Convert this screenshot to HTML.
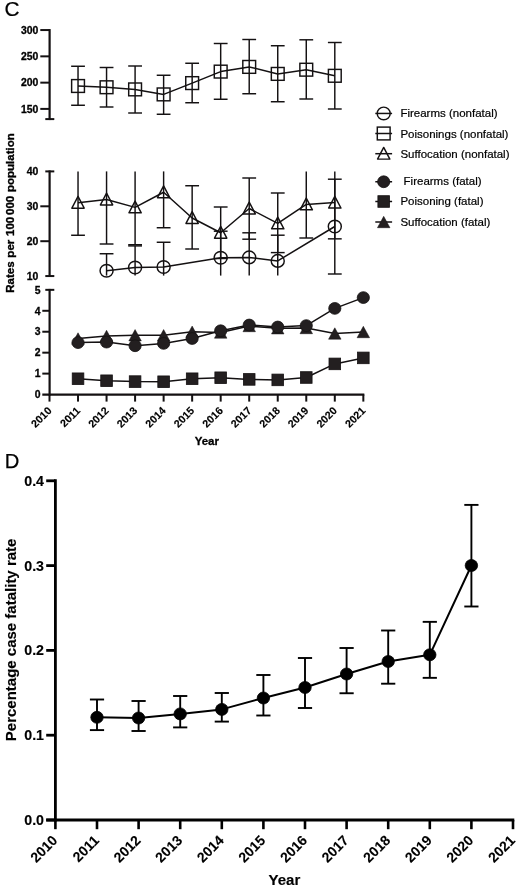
<!DOCTYPE html>
<html lang="en"><head><meta charset="utf-8"><title>Figure C and D</title>
<style>html,body{margin:0;padding:0;background:#fff}svg{display:block}</style></head>
<body>
<svg width="520" height="891" viewBox="0 0 520 891">
<rect width="520" height="891" fill="#ffffff"/>
<text x="4.60" y="16.45" font-family="Liberation Sans, Arial, Helvetica, sans-serif" font-size="20.8" text-anchor="start" fill="#000000" stroke="#000000" stroke-width="0.2">C</text>
<text x="4.85" y="468.20" font-family="Liberation Sans, Arial, Helvetica, sans-serif" font-size="20.2" text-anchor="start" fill="#000000" stroke="#000000" stroke-width="0.25">D</text>
<line x1="49.60" y1="29.05" x2="49.60" y2="120.05" stroke="#141112" stroke-width="2.2" stroke-linecap="butt"/>
<line x1="40.30" y1="30.05" x2="49.60" y2="30.05" stroke="#141112" stroke-width="2.0" stroke-linecap="butt"/>
<text x="38.40" y="33.77" font-family="Liberation Sans, Arial, Helvetica, sans-serif" font-size="10.4" font-weight="bold" text-anchor="end" fill="#000000" stroke="#000000" stroke-width="0.3">300</text>
<line x1="40.30" y1="56.35" x2="49.60" y2="56.35" stroke="#141112" stroke-width="2.0" stroke-linecap="butt"/>
<text x="38.40" y="60.07" font-family="Liberation Sans, Arial, Helvetica, sans-serif" font-size="10.4" font-weight="bold" text-anchor="end" fill="#000000" stroke="#000000" stroke-width="0.3">250</text>
<line x1="40.30" y1="82.65" x2="49.60" y2="82.65" stroke="#141112" stroke-width="2.0" stroke-linecap="butt"/>
<text x="38.40" y="86.37" font-family="Liberation Sans, Arial, Helvetica, sans-serif" font-size="10.4" font-weight="bold" text-anchor="end" fill="#000000" stroke="#000000" stroke-width="0.3">200</text>
<line x1="40.30" y1="108.90" x2="49.60" y2="108.90" stroke="#141112" stroke-width="2.0" stroke-linecap="butt"/>
<text x="38.40" y="112.62" font-family="Liberation Sans, Arial, Helvetica, sans-serif" font-size="10.4" font-weight="bold" text-anchor="end" fill="#000000" stroke="#000000" stroke-width="0.3">150</text>
<line x1="45.30" y1="119.10" x2="54.30" y2="119.10" stroke="#141112" stroke-width="2.0" stroke-linecap="butt"/>
<line x1="49.60" y1="170.45" x2="49.60" y2="277.00" stroke="#141112" stroke-width="2.2" stroke-linecap="butt"/>
<line x1="45.30" y1="171.40" x2="54.30" y2="171.40" stroke="#141112" stroke-width="2.0" stroke-linecap="butt"/>
<text x="38.40" y="175.12" font-family="Liberation Sans, Arial, Helvetica, sans-serif" font-size="10.4" font-weight="bold" text-anchor="end" fill="#000000" stroke="#000000" stroke-width="0.3">40</text>
<line x1="45.30" y1="276.05" x2="54.30" y2="276.05" stroke="#141112" stroke-width="2.0" stroke-linecap="butt"/>
<text x="38.40" y="280.12" font-family="Liberation Sans, Arial, Helvetica, sans-serif" font-size="10.4" font-weight="bold" text-anchor="end" fill="#000000" stroke="#000000" stroke-width="0.3">10</text>
<line x1="40.30" y1="206.30" x2="49.60" y2="206.30" stroke="#141112" stroke-width="2.0" stroke-linecap="butt"/>
<text x="38.40" y="210.02" font-family="Liberation Sans, Arial, Helvetica, sans-serif" font-size="10.4" font-weight="bold" text-anchor="end" fill="#000000" stroke="#000000" stroke-width="0.3">30</text>
<line x1="40.30" y1="241.20" x2="49.60" y2="241.20" stroke="#141112" stroke-width="2.0" stroke-linecap="butt"/>
<text x="38.40" y="244.92" font-family="Liberation Sans, Arial, Helvetica, sans-serif" font-size="10.4" font-weight="bold" text-anchor="end" fill="#000000" stroke="#000000" stroke-width="0.3">20</text>
<line x1="49.60" y1="288.90" x2="49.60" y2="395.55" stroke="#141112" stroke-width="2.2" stroke-linecap="butt"/>
<line x1="45.30" y1="289.85" x2="54.30" y2="289.85" stroke="#141112" stroke-width="2.0" stroke-linecap="butt"/>
<text x="40.50" y="293.57" font-family="Liberation Sans, Arial, Helvetica, sans-serif" font-size="10.4" font-weight="bold" text-anchor="end" fill="#000000" stroke="#000000" stroke-width="0.3">5</text>
<text x="40.50" y="398.27" font-family="Liberation Sans, Arial, Helvetica, sans-serif" font-size="10.4" font-weight="bold" text-anchor="end" fill="#000000" stroke="#000000" stroke-width="0.3">0</text>
<line x1="42.30" y1="373.61" x2="49.60" y2="373.61" stroke="#141112" stroke-width="2.0" stroke-linecap="butt"/>
<text x="40.50" y="377.33" font-family="Liberation Sans, Arial, Helvetica, sans-serif" font-size="10.4" font-weight="bold" text-anchor="end" fill="#000000" stroke="#000000" stroke-width="0.3">1</text>
<line x1="42.30" y1="352.67" x2="49.60" y2="352.67" stroke="#141112" stroke-width="2.0" stroke-linecap="butt"/>
<text x="40.50" y="356.39" font-family="Liberation Sans, Arial, Helvetica, sans-serif" font-size="10.4" font-weight="bold" text-anchor="end" fill="#000000" stroke="#000000" stroke-width="0.3">2</text>
<line x1="42.30" y1="331.73" x2="49.60" y2="331.73" stroke="#141112" stroke-width="2.0" stroke-linecap="butt"/>
<text x="40.50" y="335.45" font-family="Liberation Sans, Arial, Helvetica, sans-serif" font-size="10.4" font-weight="bold" text-anchor="end" fill="#000000" stroke="#000000" stroke-width="0.3">3</text>
<line x1="42.30" y1="310.79" x2="49.60" y2="310.79" stroke="#141112" stroke-width="2.0" stroke-linecap="butt"/>
<text x="40.50" y="314.51" font-family="Liberation Sans, Arial, Helvetica, sans-serif" font-size="10.4" font-weight="bold" text-anchor="end" fill="#000000" stroke="#000000" stroke-width="0.3">4</text>
<line x1="42.30" y1="394.55" x2="364.33" y2="394.55" stroke="#141112" stroke-width="2.2" stroke-linecap="butt"/>
<line x1="49.50" y1="394.55" x2="49.50" y2="401.60" stroke="#141112" stroke-width="2.0" stroke-linecap="butt"/>
<text transform="translate(49.70 408.70) rotate(-45)" x="0" y="3.83" font-family="Liberation Sans, Arial, Helvetica, sans-serif" font-size="10.7" font-weight="bold" text-anchor="end" fill="#000000" stroke="#000000" stroke-width="0.15">2010</text>
<line x1="78.03" y1="394.55" x2="78.03" y2="401.60" stroke="#141112" stroke-width="2.0" stroke-linecap="butt"/>
<text transform="translate(78.23 408.70) rotate(-45)" x="0" y="3.83" font-family="Liberation Sans, Arial, Helvetica, sans-serif" font-size="10.7" font-weight="bold" text-anchor="end" fill="#000000" stroke="#000000" stroke-width="0.15">2011</text>
<line x1="106.56" y1="394.55" x2="106.56" y2="401.60" stroke="#141112" stroke-width="2.0" stroke-linecap="butt"/>
<text transform="translate(106.76 408.70) rotate(-45)" x="0" y="3.83" font-family="Liberation Sans, Arial, Helvetica, sans-serif" font-size="10.7" font-weight="bold" text-anchor="end" fill="#000000" stroke="#000000" stroke-width="0.15">2012</text>
<line x1="135.09" y1="394.55" x2="135.09" y2="401.60" stroke="#141112" stroke-width="2.0" stroke-linecap="butt"/>
<text transform="translate(135.29 408.70) rotate(-45)" x="0" y="3.83" font-family="Liberation Sans, Arial, Helvetica, sans-serif" font-size="10.7" font-weight="bold" text-anchor="end" fill="#000000" stroke="#000000" stroke-width="0.15">2013</text>
<line x1="163.62" y1="394.55" x2="163.62" y2="401.60" stroke="#141112" stroke-width="2.0" stroke-linecap="butt"/>
<text transform="translate(163.82 408.70) rotate(-45)" x="0" y="3.83" font-family="Liberation Sans, Arial, Helvetica, sans-serif" font-size="10.7" font-weight="bold" text-anchor="end" fill="#000000" stroke="#000000" stroke-width="0.15">2014</text>
<line x1="192.15" y1="394.55" x2="192.15" y2="401.60" stroke="#141112" stroke-width="2.0" stroke-linecap="butt"/>
<text transform="translate(192.35 408.70) rotate(-45)" x="0" y="3.83" font-family="Liberation Sans, Arial, Helvetica, sans-serif" font-size="10.7" font-weight="bold" text-anchor="end" fill="#000000" stroke="#000000" stroke-width="0.15">2015</text>
<line x1="220.68" y1="394.55" x2="220.68" y2="401.60" stroke="#141112" stroke-width="2.0" stroke-linecap="butt"/>
<text transform="translate(220.88 408.70) rotate(-45)" x="0" y="3.83" font-family="Liberation Sans, Arial, Helvetica, sans-serif" font-size="10.7" font-weight="bold" text-anchor="end" fill="#000000" stroke="#000000" stroke-width="0.15">2016</text>
<line x1="249.21" y1="394.55" x2="249.21" y2="401.60" stroke="#141112" stroke-width="2.0" stroke-linecap="butt"/>
<text transform="translate(249.41 408.70) rotate(-45)" x="0" y="3.83" font-family="Liberation Sans, Arial, Helvetica, sans-serif" font-size="10.7" font-weight="bold" text-anchor="end" fill="#000000" stroke="#000000" stroke-width="0.15">2017</text>
<line x1="277.74" y1="394.55" x2="277.74" y2="401.60" stroke="#141112" stroke-width="2.0" stroke-linecap="butt"/>
<text transform="translate(277.94 408.70) rotate(-45)" x="0" y="3.83" font-family="Liberation Sans, Arial, Helvetica, sans-serif" font-size="10.7" font-weight="bold" text-anchor="end" fill="#000000" stroke="#000000" stroke-width="0.15">2018</text>
<line x1="306.27" y1="394.55" x2="306.27" y2="401.60" stroke="#141112" stroke-width="2.0" stroke-linecap="butt"/>
<text transform="translate(306.47 408.70) rotate(-45)" x="0" y="3.83" font-family="Liberation Sans, Arial, Helvetica, sans-serif" font-size="10.7" font-weight="bold" text-anchor="end" fill="#000000" stroke="#000000" stroke-width="0.15">2019</text>
<line x1="334.80" y1="394.55" x2="334.80" y2="401.60" stroke="#141112" stroke-width="2.0" stroke-linecap="butt"/>
<text transform="translate(335.00 408.70) rotate(-45)" x="0" y="3.83" font-family="Liberation Sans, Arial, Helvetica, sans-serif" font-size="10.7" font-weight="bold" text-anchor="end" fill="#000000" stroke="#000000" stroke-width="0.15">2020</text>
<line x1="363.33" y1="394.55" x2="363.33" y2="401.60" stroke="#141112" stroke-width="2.0" stroke-linecap="butt"/>
<text transform="translate(363.53 408.70) rotate(-45)" x="0" y="3.83" font-family="Liberation Sans, Arial, Helvetica, sans-serif" font-size="10.7" font-weight="bold" text-anchor="end" fill="#000000" stroke="#000000" stroke-width="0.15">2021</text>
<text x="206.85" y="444.90" font-family="Liberation Sans, Arial, Helvetica, sans-serif" font-size="11.5" font-weight="bold" text-anchor="middle" fill="#000000" stroke="#000000" stroke-width="0.3">Year</text>
<text transform="translate(13.80 213.00) rotate(-90)" x="0" y="0.00" font-family="Liberation Sans, Arial, Helvetica, sans-serif" font-size="11.5" font-weight="bold" text-anchor="middle" fill="#000000" word-spacing="0.6" stroke="#000000" stroke-width="0.35">Rates per 100 <tspan dx="-2.0">000 population</tspan></text>
<line x1="78.03" y1="66.25" x2="78.03" y2="105.25" stroke="#141112" stroke-width="1.45" stroke-linecap="butt"/>
<line x1="71.13" y1="66.25" x2="84.93" y2="66.25" stroke="#141112" stroke-width="1.45" stroke-linecap="butt"/>
<line x1="71.13" y1="105.25" x2="84.93" y2="105.25" stroke="#141112" stroke-width="1.45" stroke-linecap="butt"/>
<line x1="106.56" y1="67.50" x2="106.56" y2="107.00" stroke="#141112" stroke-width="1.45" stroke-linecap="butt"/>
<line x1="99.66" y1="67.50" x2="113.46" y2="67.50" stroke="#141112" stroke-width="1.45" stroke-linecap="butt"/>
<line x1="99.66" y1="107.00" x2="113.46" y2="107.00" stroke="#141112" stroke-width="1.45" stroke-linecap="butt"/>
<line x1="135.09" y1="66.00" x2="135.09" y2="113.00" stroke="#141112" stroke-width="1.45" stroke-linecap="butt"/>
<line x1="128.19" y1="66.00" x2="141.99" y2="66.00" stroke="#141112" stroke-width="1.45" stroke-linecap="butt"/>
<line x1="128.19" y1="113.00" x2="141.99" y2="113.00" stroke="#141112" stroke-width="1.45" stroke-linecap="butt"/>
<line x1="163.62" y1="75.25" x2="163.62" y2="114.25" stroke="#141112" stroke-width="1.45" stroke-linecap="butt"/>
<line x1="156.72" y1="75.25" x2="170.52" y2="75.25" stroke="#141112" stroke-width="1.45" stroke-linecap="butt"/>
<line x1="156.72" y1="114.25" x2="170.52" y2="114.25" stroke="#141112" stroke-width="1.45" stroke-linecap="butt"/>
<line x1="192.15" y1="63.25" x2="192.15" y2="102.75" stroke="#141112" stroke-width="1.45" stroke-linecap="butt"/>
<line x1="185.25" y1="63.25" x2="199.05" y2="63.25" stroke="#141112" stroke-width="1.45" stroke-linecap="butt"/>
<line x1="185.25" y1="102.75" x2="199.05" y2="102.75" stroke="#141112" stroke-width="1.45" stroke-linecap="butt"/>
<line x1="220.68" y1="43.50" x2="220.68" y2="99.25" stroke="#141112" stroke-width="1.45" stroke-linecap="butt"/>
<line x1="213.78" y1="43.50" x2="227.58" y2="43.50" stroke="#141112" stroke-width="1.45" stroke-linecap="butt"/>
<line x1="213.78" y1="99.25" x2="227.58" y2="99.25" stroke="#141112" stroke-width="1.45" stroke-linecap="butt"/>
<line x1="249.21" y1="39.50" x2="249.21" y2="93.75" stroke="#141112" stroke-width="1.45" stroke-linecap="butt"/>
<line x1="242.31" y1="39.50" x2="256.11" y2="39.50" stroke="#141112" stroke-width="1.45" stroke-linecap="butt"/>
<line x1="242.31" y1="93.75" x2="256.11" y2="93.75" stroke="#141112" stroke-width="1.45" stroke-linecap="butt"/>
<line x1="277.74" y1="45.75" x2="277.74" y2="101.75" stroke="#141112" stroke-width="1.45" stroke-linecap="butt"/>
<line x1="270.84" y1="45.75" x2="284.64" y2="45.75" stroke="#141112" stroke-width="1.45" stroke-linecap="butt"/>
<line x1="270.84" y1="101.75" x2="284.64" y2="101.75" stroke="#141112" stroke-width="1.45" stroke-linecap="butt"/>
<line x1="306.27" y1="39.80" x2="306.27" y2="99.00" stroke="#141112" stroke-width="1.45" stroke-linecap="butt"/>
<line x1="299.37" y1="39.80" x2="313.17" y2="39.80" stroke="#141112" stroke-width="1.45" stroke-linecap="butt"/>
<line x1="299.37" y1="99.00" x2="313.17" y2="99.00" stroke="#141112" stroke-width="1.45" stroke-linecap="butt"/>
<line x1="334.80" y1="42.50" x2="334.80" y2="109.00" stroke="#141112" stroke-width="1.45" stroke-linecap="butt"/>
<line x1="327.90" y1="42.50" x2="341.70" y2="42.50" stroke="#141112" stroke-width="1.45" stroke-linecap="butt"/>
<line x1="327.90" y1="109.00" x2="341.70" y2="109.00" stroke="#141112" stroke-width="1.45" stroke-linecap="butt"/>
<polyline points="78.03,86.00 106.56,87.25 135.09,89.40 163.62,94.40 192.15,83.10 220.68,71.60 249.21,66.90 277.74,73.90 306.27,69.70 334.80,75.80" fill="none" stroke="#141112" stroke-width="1.5" stroke-linejoin="round"/>
<rect x="71.63" y="79.60" width="12.80" height="12.80" fill="none" stroke="#141112" stroke-width="1.45"/>
<rect x="100.16" y="80.85" width="12.80" height="12.80" fill="none" stroke="#141112" stroke-width="1.45"/>
<rect x="128.69" y="83.00" width="12.80" height="12.80" fill="none" stroke="#141112" stroke-width="1.45"/>
<rect x="157.22" y="88.00" width="12.80" height="12.80" fill="none" stroke="#141112" stroke-width="1.45"/>
<rect x="185.75" y="76.70" width="12.80" height="12.80" fill="none" stroke="#141112" stroke-width="1.45"/>
<rect x="214.28" y="65.20" width="12.80" height="12.80" fill="none" stroke="#141112" stroke-width="1.45"/>
<rect x="242.81" y="60.50" width="12.80" height="12.80" fill="none" stroke="#141112" stroke-width="1.45"/>
<rect x="271.34" y="67.50" width="12.80" height="12.80" fill="none" stroke="#141112" stroke-width="1.45"/>
<rect x="299.87" y="63.30" width="12.80" height="12.80" fill="none" stroke="#141112" stroke-width="1.45"/>
<rect x="328.40" y="69.40" width="12.80" height="12.80" fill="none" stroke="#141112" stroke-width="1.45"/>
<line x1="78.03" y1="171.40" x2="78.03" y2="235.25" stroke="#141112" stroke-width="1.45" stroke-linecap="butt"/>
<line x1="71.13" y1="235.25" x2="84.93" y2="235.25" stroke="#141112" stroke-width="1.45" stroke-linecap="butt"/>
<line x1="106.56" y1="171.40" x2="106.56" y2="244.00" stroke="#141112" stroke-width="1.45" stroke-linecap="butt"/>
<line x1="99.66" y1="244.00" x2="113.46" y2="244.00" stroke="#141112" stroke-width="1.45" stroke-linecap="butt"/>
<line x1="135.09" y1="171.40" x2="135.09" y2="244.70" stroke="#141112" stroke-width="1.45" stroke-linecap="butt"/>
<line x1="128.19" y1="244.70" x2="141.99" y2="244.70" stroke="#141112" stroke-width="1.45" stroke-linecap="butt"/>
<line x1="163.62" y1="171.40" x2="163.62" y2="227.75" stroke="#141112" stroke-width="1.45" stroke-linecap="butt"/>
<line x1="156.72" y1="227.75" x2="170.52" y2="227.75" stroke="#141112" stroke-width="1.45" stroke-linecap="butt"/>
<line x1="192.15" y1="185.75" x2="192.15" y2="249.00" stroke="#141112" stroke-width="1.45" stroke-linecap="butt"/>
<line x1="185.25" y1="185.75" x2="199.05" y2="185.75" stroke="#141112" stroke-width="1.45" stroke-linecap="butt"/>
<line x1="185.25" y1="249.00" x2="199.05" y2="249.00" stroke="#141112" stroke-width="1.45" stroke-linecap="butt"/>
<line x1="220.68" y1="207.00" x2="220.68" y2="258.50" stroke="#141112" stroke-width="1.45" stroke-linecap="butt"/>
<line x1="213.78" y1="207.00" x2="227.58" y2="207.00" stroke="#141112" stroke-width="1.45" stroke-linecap="butt"/>
<line x1="213.78" y1="258.50" x2="227.58" y2="258.50" stroke="#141112" stroke-width="1.45" stroke-linecap="butt"/>
<line x1="249.21" y1="178.00" x2="249.21" y2="239.20" stroke="#141112" stroke-width="1.45" stroke-linecap="butt"/>
<line x1="242.31" y1="178.00" x2="256.11" y2="178.00" stroke="#141112" stroke-width="1.45" stroke-linecap="butt"/>
<line x1="242.31" y1="239.20" x2="256.11" y2="239.20" stroke="#141112" stroke-width="1.45" stroke-linecap="butt"/>
<line x1="277.74" y1="193.00" x2="277.74" y2="252.60" stroke="#141112" stroke-width="1.45" stroke-linecap="butt"/>
<line x1="270.84" y1="193.00" x2="284.64" y2="193.00" stroke="#141112" stroke-width="1.45" stroke-linecap="butt"/>
<line x1="270.84" y1="252.60" x2="284.64" y2="252.60" stroke="#141112" stroke-width="1.45" stroke-linecap="butt"/>
<line x1="306.27" y1="171.40" x2="306.27" y2="238.00" stroke="#141112" stroke-width="1.45" stroke-linecap="butt"/>
<line x1="299.37" y1="238.00" x2="313.17" y2="238.00" stroke="#141112" stroke-width="1.45" stroke-linecap="butt"/>
<line x1="334.80" y1="171.40" x2="334.80" y2="238.85" stroke="#141112" stroke-width="1.45" stroke-linecap="butt"/>
<line x1="327.90" y1="238.85" x2="341.70" y2="238.85" stroke="#141112" stroke-width="1.45" stroke-linecap="butt"/>
<line x1="106.56" y1="253.75" x2="106.56" y2="275.60" stroke="#141112" stroke-width="1.45" stroke-linecap="butt"/>
<line x1="99.66" y1="253.75" x2="113.46" y2="253.75" stroke="#141112" stroke-width="1.45" stroke-linecap="butt"/>
<line x1="135.09" y1="245.90" x2="135.09" y2="275.60" stroke="#141112" stroke-width="1.45" stroke-linecap="butt"/>
<line x1="128.19" y1="245.90" x2="141.99" y2="245.90" stroke="#141112" stroke-width="1.45" stroke-linecap="butt"/>
<line x1="163.62" y1="242.25" x2="163.62" y2="275.60" stroke="#141112" stroke-width="1.45" stroke-linecap="butt"/>
<line x1="156.72" y1="242.25" x2="170.52" y2="242.25" stroke="#141112" stroke-width="1.45" stroke-linecap="butt"/>
<line x1="220.68" y1="231.20" x2="220.68" y2="275.60" stroke="#141112" stroke-width="1.45" stroke-linecap="butt"/>
<line x1="213.78" y1="231.20" x2="227.58" y2="231.20" stroke="#141112" stroke-width="1.45" stroke-linecap="butt"/>
<line x1="249.21" y1="232.80" x2="249.21" y2="275.60" stroke="#141112" stroke-width="1.45" stroke-linecap="butt"/>
<line x1="242.31" y1="232.80" x2="256.11" y2="232.80" stroke="#141112" stroke-width="1.45" stroke-linecap="butt"/>
<line x1="277.74" y1="235.20" x2="277.74" y2="275.60" stroke="#141112" stroke-width="1.45" stroke-linecap="butt"/>
<line x1="270.84" y1="235.20" x2="284.64" y2="235.20" stroke="#141112" stroke-width="1.45" stroke-linecap="butt"/>
<line x1="334.80" y1="179.20" x2="334.80" y2="274.00" stroke="#141112" stroke-width="1.45" stroke-linecap="butt"/>
<line x1="327.90" y1="179.20" x2="341.70" y2="179.20" stroke="#141112" stroke-width="1.45" stroke-linecap="butt"/>
<line x1="327.90" y1="274.00" x2="341.70" y2="274.00" stroke="#141112" stroke-width="1.45" stroke-linecap="butt"/>
<polyline points="78.03,202.75 106.56,199.50 135.09,207.40 163.62,192.25 192.15,218.00 220.68,232.75 249.21,208.50 277.74,223.40 306.27,204.40 334.80,202.60" fill="none" stroke="#141112" stroke-width="1.5" stroke-linejoin="round"/>
<polyline points="106.56,270.75 135.09,267.50 163.62,267.00 220.68,257.75 249.21,257.40 277.74,260.90 334.80,226.50" fill="none" stroke="#141112" stroke-width="1.5" stroke-linejoin="round"/>
<polygon points="78.03,196.45 84.18,208.15 71.88,208.15" fill="none" stroke="#141112" stroke-width="1.45" stroke-linejoin="round"/>
<polygon points="106.56,193.20 112.71,204.90 100.41,204.90" fill="none" stroke="#141112" stroke-width="1.45" stroke-linejoin="round"/>
<polygon points="135.09,201.10 141.24,212.80 128.94,212.80" fill="none" stroke="#141112" stroke-width="1.45" stroke-linejoin="round"/>
<polygon points="163.62,185.95 169.77,197.65 157.47,197.65" fill="none" stroke="#141112" stroke-width="1.45" stroke-linejoin="round"/>
<polygon points="192.15,211.70 198.30,223.40 186.00,223.40" fill="none" stroke="#141112" stroke-width="1.45" stroke-linejoin="round"/>
<polygon points="220.68,226.45 226.83,238.15 214.53,238.15" fill="none" stroke="#141112" stroke-width="1.45" stroke-linejoin="round"/>
<polygon points="249.21,202.20 255.36,213.90 243.06,213.90" fill="none" stroke="#141112" stroke-width="1.45" stroke-linejoin="round"/>
<polygon points="277.74,217.10 283.89,228.80 271.59,228.80" fill="none" stroke="#141112" stroke-width="1.45" stroke-linejoin="round"/>
<polygon points="306.27,198.10 312.42,209.80 300.12,209.80" fill="none" stroke="#141112" stroke-width="1.45" stroke-linejoin="round"/>
<polygon points="334.80,196.30 340.95,208.00 328.65,208.00" fill="none" stroke="#141112" stroke-width="1.45" stroke-linejoin="round"/>
<ellipse cx="106.56" cy="270.75" rx="6.50" ry="6.30" fill="none" stroke="#141112" stroke-width="1.45"/>
<ellipse cx="135.09" cy="267.50" rx="6.50" ry="6.30" fill="none" stroke="#141112" stroke-width="1.45"/>
<ellipse cx="163.62" cy="267.00" rx="6.50" ry="6.30" fill="none" stroke="#141112" stroke-width="1.45"/>
<ellipse cx="220.68" cy="257.75" rx="6.50" ry="6.30" fill="none" stroke="#141112" stroke-width="1.45"/>
<ellipse cx="249.21" cy="257.40" rx="6.50" ry="6.30" fill="none" stroke="#141112" stroke-width="1.45"/>
<ellipse cx="277.74" cy="260.90" rx="6.50" ry="6.30" fill="none" stroke="#141112" stroke-width="1.45"/>
<ellipse cx="334.80" cy="226.50" rx="6.50" ry="6.30" fill="none" stroke="#141112" stroke-width="1.45"/>
<polyline points="78.03,338.50 106.56,336.00 135.09,335.25 163.62,335.25 192.15,331.75 220.68,332.50 249.21,326.00 277.74,328.25 306.27,328.00 334.80,333.50 363.33,332.00" fill="none" stroke="#141112" stroke-width="1.5" stroke-linejoin="round"/>
<polyline points="78.03,342.60 106.56,342.10 135.09,345.75 163.62,343.40 192.15,338.50 220.68,330.75 249.21,325.00 277.74,327.00 306.27,325.60 334.80,308.40 363.33,297.60" fill="none" stroke="#141112" stroke-width="1.5" stroke-linejoin="round"/>
<polyline points="78.03,378.75 106.56,380.75 135.09,381.60 163.62,381.75 192.15,378.75 220.68,377.75 249.21,379.40 277.74,379.90 306.27,377.50 334.80,363.90 363.33,357.90" fill="none" stroke="#141112" stroke-width="1.5" stroke-linejoin="round"/>
<polygon points="78.03,332.80 84.28,344.20 71.78,344.20" fill="#231f20" stroke="#141112" stroke-width="0.5" stroke-linejoin="round"/>
<polygon points="106.56,330.30 112.81,341.70 100.31,341.70" fill="#231f20" stroke="#141112" stroke-width="0.5" stroke-linejoin="round"/>
<polygon points="135.09,329.55 141.34,340.95 128.84,340.95" fill="#231f20" stroke="#141112" stroke-width="0.5" stroke-linejoin="round"/>
<polygon points="163.62,329.55 169.87,340.95 157.37,340.95" fill="#231f20" stroke="#141112" stroke-width="0.5" stroke-linejoin="round"/>
<polygon points="192.15,326.05 198.40,337.45 185.90,337.45" fill="#231f20" stroke="#141112" stroke-width="0.5" stroke-linejoin="round"/>
<polygon points="220.68,326.80 226.93,338.20 214.43,338.20" fill="#231f20" stroke="#141112" stroke-width="0.5" stroke-linejoin="round"/>
<polygon points="249.21,320.30 255.46,331.70 242.96,331.70" fill="#231f20" stroke="#141112" stroke-width="0.5" stroke-linejoin="round"/>
<polygon points="277.74,322.55 283.99,333.95 271.49,333.95" fill="#231f20" stroke="#141112" stroke-width="0.5" stroke-linejoin="round"/>
<polygon points="306.27,322.30 312.52,333.70 300.02,333.70" fill="#231f20" stroke="#141112" stroke-width="0.5" stroke-linejoin="round"/>
<polygon points="334.80,327.80 341.05,339.20 328.55,339.20" fill="#231f20" stroke="#141112" stroke-width="0.5" stroke-linejoin="round"/>
<polygon points="363.33,326.30 369.58,337.70 357.08,337.70" fill="#231f20" stroke="#141112" stroke-width="0.5" stroke-linejoin="round"/>
<ellipse cx="78.03" cy="342.60" rx="6.10" ry="5.90" fill="#231f20" stroke="#141112" stroke-width="0.8"/>
<ellipse cx="106.56" cy="342.10" rx="6.10" ry="5.90" fill="#231f20" stroke="#141112" stroke-width="0.8"/>
<ellipse cx="135.09" cy="345.75" rx="6.10" ry="5.90" fill="#231f20" stroke="#141112" stroke-width="0.8"/>
<ellipse cx="163.62" cy="343.40" rx="6.10" ry="5.90" fill="#231f20" stroke="#141112" stroke-width="0.8"/>
<ellipse cx="192.15" cy="338.50" rx="6.10" ry="5.90" fill="#231f20" stroke="#141112" stroke-width="0.8"/>
<ellipse cx="220.68" cy="330.75" rx="6.10" ry="5.90" fill="#231f20" stroke="#141112" stroke-width="0.8"/>
<ellipse cx="249.21" cy="325.00" rx="6.10" ry="5.90" fill="#231f20" stroke="#141112" stroke-width="0.8"/>
<ellipse cx="277.74" cy="327.00" rx="6.10" ry="5.90" fill="#231f20" stroke="#141112" stroke-width="0.8"/>
<ellipse cx="306.27" cy="325.60" rx="6.10" ry="5.90" fill="#231f20" stroke="#141112" stroke-width="0.8"/>
<ellipse cx="334.80" cy="308.40" rx="6.10" ry="5.90" fill="#231f20" stroke="#141112" stroke-width="0.8"/>
<ellipse cx="363.33" cy="297.60" rx="6.10" ry="5.90" fill="#231f20" stroke="#141112" stroke-width="0.8"/>
<rect x="72.23" y="372.95" width="11.60" height="11.60" fill="#231f20" stroke="#141112" stroke-width="0.8"/>
<rect x="100.76" y="374.95" width="11.60" height="11.60" fill="#231f20" stroke="#141112" stroke-width="0.8"/>
<rect x="129.29" y="375.80" width="11.60" height="11.60" fill="#231f20" stroke="#141112" stroke-width="0.8"/>
<rect x="157.82" y="375.95" width="11.60" height="11.60" fill="#231f20" stroke="#141112" stroke-width="0.8"/>
<rect x="186.35" y="372.95" width="11.60" height="11.60" fill="#231f20" stroke="#141112" stroke-width="0.8"/>
<rect x="214.88" y="371.95" width="11.60" height="11.60" fill="#231f20" stroke="#141112" stroke-width="0.8"/>
<rect x="243.41" y="373.60" width="11.60" height="11.60" fill="#231f20" stroke="#141112" stroke-width="0.8"/>
<rect x="271.94" y="374.10" width="11.60" height="11.60" fill="#231f20" stroke="#141112" stroke-width="0.8"/>
<rect x="300.47" y="371.70" width="11.60" height="11.60" fill="#231f20" stroke="#141112" stroke-width="0.8"/>
<rect x="329.00" y="358.10" width="11.60" height="11.60" fill="#231f20" stroke="#141112" stroke-width="0.8"/>
<rect x="357.53" y="352.10" width="11.60" height="11.60" fill="#231f20" stroke="#141112" stroke-width="0.8"/>
<line x1="375.30" y1="113.45" x2="392.10" y2="113.45" stroke="#141112" stroke-width="1.5" stroke-linecap="butt"/>
<ellipse cx="383.70" cy="113.45" rx="6.50" ry="6.30" fill="none" stroke="#141112" stroke-width="1.45"/>
<text x="400.40" y="117.45" font-family="Liberation Sans, Arial, Helvetica, sans-serif" font-size="11.5" text-anchor="start" fill="#000000" stroke="#000000" stroke-width="0.2">Firearms (nonfatal)</text>
<line x1="375.30" y1="133.50" x2="392.10" y2="133.50" stroke="#141112" stroke-width="1.5" stroke-linecap="butt"/>
<rect x="377.30" y="127.10" width="12.80" height="12.80" fill="none" stroke="#141112" stroke-width="1.45"/>
<text x="400.40" y="137.50" font-family="Liberation Sans, Arial, Helvetica, sans-serif" font-size="11.5" text-anchor="start" fill="#000000" stroke="#000000" stroke-width="0.2">Poisonings (nonfatal)</text>
<line x1="375.30" y1="153.70" x2="392.10" y2="153.70" stroke="#141112" stroke-width="1.5" stroke-linecap="butt"/>
<polygon points="383.70,147.40 389.85,159.10 377.55,159.10" fill="none" stroke="#141112" stroke-width="1.45" stroke-linejoin="round"/>
<text x="400.40" y="157.70" font-family="Liberation Sans, Arial, Helvetica, sans-serif" font-size="11.5" text-anchor="start" fill="#000000" stroke="#000000" stroke-width="0.2">Suffocation (nonfatal)</text>
<line x1="375.30" y1="181.75" x2="392.10" y2="181.75" stroke="#141112" stroke-width="1.5" stroke-linecap="butt"/>
<ellipse cx="383.70" cy="181.75" rx="6.10" ry="5.90" fill="#231f20" stroke="#141112" stroke-width="0.8"/>
<text x="400.40" y="185.40" font-family="Liberation Sans, Arial, Helvetica, sans-serif" font-size="11.5" text-anchor="start" fill="#000000" stroke="#000000" stroke-width="0.2">&#160;Firearms (fatal)</text>
<line x1="375.30" y1="201.50" x2="392.10" y2="201.50" stroke="#141112" stroke-width="1.5" stroke-linecap="butt"/>
<rect x="377.90" y="195.70" width="11.60" height="11.60" fill="#231f20" stroke="#141112" stroke-width="0.8"/>
<text x="400.40" y="205.15" font-family="Liberation Sans, Arial, Helvetica, sans-serif" font-size="11.5" text-anchor="start" fill="#000000" stroke="#000000" stroke-width="0.2">Poisoning (fatal)</text>
<line x1="375.30" y1="222.00" x2="392.10" y2="222.00" stroke="#141112" stroke-width="1.5" stroke-linecap="butt"/>
<polygon points="383.70,216.30 389.95,227.70 377.45,227.70" fill="#231f20" stroke="#141112" stroke-width="0.5" stroke-linejoin="round"/>
<text x="400.40" y="225.65" font-family="Liberation Sans, Arial, Helvetica, sans-serif" font-size="11.5" text-anchor="start" fill="#000000" stroke="#000000" stroke-width="0.2">Suffocation (fatal)</text>
<line x1="55.40" y1="479.35" x2="55.40" y2="821.40" stroke="#000000" stroke-width="2.8" stroke-linecap="butt"/>
<line x1="46.20" y1="820.00" x2="55.40" y2="820.00" stroke="#000000" stroke-width="2.8" stroke-linecap="butt"/>
<text x="44.00" y="825.08" font-family="Liberation Sans, Arial, Helvetica, sans-serif" font-size="14.2" font-weight="bold" text-anchor="end" fill="#000000" stroke="#000000" stroke-width="0.15">0.0</text>
<line x1="46.20" y1="735.20" x2="55.40" y2="735.20" stroke="#000000" stroke-width="2.8" stroke-linecap="butt"/>
<text x="44.00" y="740.28" font-family="Liberation Sans, Arial, Helvetica, sans-serif" font-size="14.2" font-weight="bold" text-anchor="end" fill="#000000" stroke="#000000" stroke-width="0.15">0.1</text>
<line x1="46.20" y1="650.40" x2="55.40" y2="650.40" stroke="#000000" stroke-width="2.8" stroke-linecap="butt"/>
<text x="44.00" y="655.48" font-family="Liberation Sans, Arial, Helvetica, sans-serif" font-size="14.2" font-weight="bold" text-anchor="end" fill="#000000" stroke="#000000" stroke-width="0.15">0.2</text>
<line x1="46.20" y1="565.60" x2="55.40" y2="565.60" stroke="#000000" stroke-width="2.8" stroke-linecap="butt"/>
<text x="44.00" y="570.68" font-family="Liberation Sans, Arial, Helvetica, sans-serif" font-size="14.2" font-weight="bold" text-anchor="end" fill="#000000" stroke="#000000" stroke-width="0.15">0.3</text>
<line x1="46.20" y1="480.80" x2="55.40" y2="480.80" stroke="#000000" stroke-width="2.8" stroke-linecap="butt"/>
<text x="44.00" y="485.88" font-family="Liberation Sans, Arial, Helvetica, sans-serif" font-size="14.2" font-weight="bold" text-anchor="end" fill="#000000" stroke="#000000" stroke-width="0.15">0.4</text>
<line x1="46.20" y1="820.00" x2="514.30" y2="820.00" stroke="#000000" stroke-width="2.8" stroke-linecap="butt"/>
<line x1="55.40" y1="820.00" x2="55.40" y2="829.20" stroke="#000000" stroke-width="2.6" stroke-linecap="butt"/>
<text transform="translate(54.80 837.70) rotate(-45)" x="0" y="5.01" font-family="Liberation Sans, Arial, Helvetica, sans-serif" font-size="14.0" font-weight="bold" text-anchor="end" fill="#000000" stroke="#000000" stroke-width="0.1">2010</text>
<line x1="97.00" y1="820.00" x2="97.00" y2="829.20" stroke="#000000" stroke-width="2.6" stroke-linecap="butt"/>
<text transform="translate(96.40 837.70) rotate(-45)" x="0" y="5.01" font-family="Liberation Sans, Arial, Helvetica, sans-serif" font-size="14.0" font-weight="bold" text-anchor="end" fill="#000000" stroke="#000000" stroke-width="0.1">2011</text>
<line x1="138.60" y1="820.00" x2="138.60" y2="829.20" stroke="#000000" stroke-width="2.6" stroke-linecap="butt"/>
<text transform="translate(138.00 837.70) rotate(-45)" x="0" y="5.01" font-family="Liberation Sans, Arial, Helvetica, sans-serif" font-size="14.0" font-weight="bold" text-anchor="end" fill="#000000" stroke="#000000" stroke-width="0.1">2012</text>
<line x1="180.20" y1="820.00" x2="180.20" y2="829.20" stroke="#000000" stroke-width="2.6" stroke-linecap="butt"/>
<text transform="translate(179.60 837.70) rotate(-45)" x="0" y="5.01" font-family="Liberation Sans, Arial, Helvetica, sans-serif" font-size="14.0" font-weight="bold" text-anchor="end" fill="#000000" stroke="#000000" stroke-width="0.1">2013</text>
<line x1="221.80" y1="820.00" x2="221.80" y2="829.20" stroke="#000000" stroke-width="2.6" stroke-linecap="butt"/>
<text transform="translate(221.20 837.70) rotate(-45)" x="0" y="5.01" font-family="Liberation Sans, Arial, Helvetica, sans-serif" font-size="14.0" font-weight="bold" text-anchor="end" fill="#000000" stroke="#000000" stroke-width="0.1">2014</text>
<line x1="263.40" y1="820.00" x2="263.40" y2="829.20" stroke="#000000" stroke-width="2.6" stroke-linecap="butt"/>
<text transform="translate(262.80 837.70) rotate(-45)" x="0" y="5.01" font-family="Liberation Sans, Arial, Helvetica, sans-serif" font-size="14.0" font-weight="bold" text-anchor="end" fill="#000000" stroke="#000000" stroke-width="0.1">2015</text>
<line x1="305.00" y1="820.00" x2="305.00" y2="829.20" stroke="#000000" stroke-width="2.6" stroke-linecap="butt"/>
<text transform="translate(304.40 837.70) rotate(-45)" x="0" y="5.01" font-family="Liberation Sans, Arial, Helvetica, sans-serif" font-size="14.0" font-weight="bold" text-anchor="end" fill="#000000" stroke="#000000" stroke-width="0.1">2016</text>
<line x1="346.60" y1="820.00" x2="346.60" y2="829.20" stroke="#000000" stroke-width="2.6" stroke-linecap="butt"/>
<text transform="translate(346.00 837.70) rotate(-45)" x="0" y="5.01" font-family="Liberation Sans, Arial, Helvetica, sans-serif" font-size="14.0" font-weight="bold" text-anchor="end" fill="#000000" stroke="#000000" stroke-width="0.1">2017</text>
<line x1="388.20" y1="820.00" x2="388.20" y2="829.20" stroke="#000000" stroke-width="2.6" stroke-linecap="butt"/>
<text transform="translate(387.60 837.70) rotate(-45)" x="0" y="5.01" font-family="Liberation Sans, Arial, Helvetica, sans-serif" font-size="14.0" font-weight="bold" text-anchor="end" fill="#000000" stroke="#000000" stroke-width="0.1">2018</text>
<line x1="429.80" y1="820.00" x2="429.80" y2="829.20" stroke="#000000" stroke-width="2.6" stroke-linecap="butt"/>
<text transform="translate(429.20 837.70) rotate(-45)" x="0" y="5.01" font-family="Liberation Sans, Arial, Helvetica, sans-serif" font-size="14.0" font-weight="bold" text-anchor="end" fill="#000000" stroke="#000000" stroke-width="0.1">2019</text>
<line x1="471.40" y1="820.00" x2="471.40" y2="829.20" stroke="#000000" stroke-width="2.6" stroke-linecap="butt"/>
<text transform="translate(470.80 837.70) rotate(-45)" x="0" y="5.01" font-family="Liberation Sans, Arial, Helvetica, sans-serif" font-size="14.0" font-weight="bold" text-anchor="end" fill="#000000" stroke="#000000" stroke-width="0.1">2020</text>
<line x1="513.00" y1="820.00" x2="513.00" y2="829.20" stroke="#000000" stroke-width="2.6" stroke-linecap="butt"/>
<text transform="translate(512.40 837.70) rotate(-45)" x="0" y="5.01" font-family="Liberation Sans, Arial, Helvetica, sans-serif" font-size="14.0" font-weight="bold" text-anchor="end" fill="#000000" stroke="#000000" stroke-width="0.1">2021</text>
<text x="284.40" y="884.80" font-family="Liberation Sans, Arial, Helvetica, sans-serif" font-size="15" font-weight="bold" text-anchor="middle" fill="#000000" stroke="#000000" stroke-width="0.15">Year</text>
<text transform="translate(15.70 639.90) rotate(-90)" x="0" y="0.00" font-family="Liberation Sans, Arial, Helvetica, sans-serif" font-size="15" font-weight="bold" text-anchor="middle" fill="#000000" stroke="#000000" stroke-width="0.15">Percentage case fatality rate</text>
<line x1="97.00" y1="699.50" x2="97.00" y2="730.10" stroke="#000000" stroke-width="1.9" stroke-linecap="butt"/>
<line x1="89.90" y1="699.50" x2="104.10" y2="699.50" stroke="#000000" stroke-width="1.9" stroke-linecap="butt"/>
<line x1="89.90" y1="730.10" x2="104.10" y2="730.10" stroke="#000000" stroke-width="1.9" stroke-linecap="butt"/>
<line x1="138.60" y1="701.00" x2="138.60" y2="731.00" stroke="#000000" stroke-width="1.9" stroke-linecap="butt"/>
<line x1="131.50" y1="701.00" x2="145.70" y2="701.00" stroke="#000000" stroke-width="1.9" stroke-linecap="butt"/>
<line x1="131.50" y1="731.00" x2="145.70" y2="731.00" stroke="#000000" stroke-width="1.9" stroke-linecap="butt"/>
<line x1="180.20" y1="696.00" x2="180.20" y2="727.40" stroke="#000000" stroke-width="1.9" stroke-linecap="butt"/>
<line x1="173.10" y1="696.00" x2="187.30" y2="696.00" stroke="#000000" stroke-width="1.9" stroke-linecap="butt"/>
<line x1="173.10" y1="727.40" x2="187.30" y2="727.40" stroke="#000000" stroke-width="1.9" stroke-linecap="butt"/>
<line x1="221.80" y1="693.00" x2="221.80" y2="721.60" stroke="#000000" stroke-width="1.9" stroke-linecap="butt"/>
<line x1="214.70" y1="693.00" x2="228.90" y2="693.00" stroke="#000000" stroke-width="1.9" stroke-linecap="butt"/>
<line x1="214.70" y1="721.60" x2="228.90" y2="721.60" stroke="#000000" stroke-width="1.9" stroke-linecap="butt"/>
<line x1="263.40" y1="675.00" x2="263.40" y2="715.50" stroke="#000000" stroke-width="1.9" stroke-linecap="butt"/>
<line x1="256.30" y1="675.00" x2="270.50" y2="675.00" stroke="#000000" stroke-width="1.9" stroke-linecap="butt"/>
<line x1="256.30" y1="715.50" x2="270.50" y2="715.50" stroke="#000000" stroke-width="1.9" stroke-linecap="butt"/>
<line x1="305.00" y1="658.00" x2="305.00" y2="708.00" stroke="#000000" stroke-width="1.9" stroke-linecap="butt"/>
<line x1="297.90" y1="658.00" x2="312.10" y2="658.00" stroke="#000000" stroke-width="1.9" stroke-linecap="butt"/>
<line x1="297.90" y1="708.00" x2="312.10" y2="708.00" stroke="#000000" stroke-width="1.9" stroke-linecap="butt"/>
<line x1="346.60" y1="648.00" x2="346.60" y2="693.25" stroke="#000000" stroke-width="1.9" stroke-linecap="butt"/>
<line x1="339.50" y1="648.00" x2="353.70" y2="648.00" stroke="#000000" stroke-width="1.9" stroke-linecap="butt"/>
<line x1="339.50" y1="693.25" x2="353.70" y2="693.25" stroke="#000000" stroke-width="1.9" stroke-linecap="butt"/>
<line x1="388.20" y1="630.50" x2="388.20" y2="683.70" stroke="#000000" stroke-width="1.9" stroke-linecap="butt"/>
<line x1="381.10" y1="630.50" x2="395.30" y2="630.50" stroke="#000000" stroke-width="1.9" stroke-linecap="butt"/>
<line x1="381.10" y1="683.70" x2="395.30" y2="683.70" stroke="#000000" stroke-width="1.9" stroke-linecap="butt"/>
<line x1="429.80" y1="621.85" x2="429.80" y2="677.85" stroke="#000000" stroke-width="1.9" stroke-linecap="butt"/>
<line x1="422.70" y1="621.85" x2="436.90" y2="621.85" stroke="#000000" stroke-width="1.9" stroke-linecap="butt"/>
<line x1="422.70" y1="677.85" x2="436.90" y2="677.85" stroke="#000000" stroke-width="1.9" stroke-linecap="butt"/>
<line x1="471.40" y1="504.90" x2="471.40" y2="606.50" stroke="#000000" stroke-width="1.9" stroke-linecap="butt"/>
<line x1="464.30" y1="504.90" x2="478.50" y2="504.90" stroke="#000000" stroke-width="1.9" stroke-linecap="butt"/>
<line x1="464.30" y1="606.50" x2="478.50" y2="606.50" stroke="#000000" stroke-width="1.9" stroke-linecap="butt"/>
<polyline points="97.00,717.30 138.60,718.00 180.20,713.90 221.80,709.40 263.40,698.00 305.00,687.50 346.60,674.00 388.20,661.50 429.80,654.80 471.40,565.50" fill="none" stroke="#000000" stroke-width="2.0" stroke-linejoin="round"/>
<ellipse cx="97.00" cy="717.30" rx="6.20" ry="6.00" fill="#000000" stroke="#000000" stroke-width="0.8"/>
<ellipse cx="138.60" cy="718.00" rx="6.20" ry="6.00" fill="#000000" stroke="#000000" stroke-width="0.8"/>
<ellipse cx="180.20" cy="713.90" rx="6.20" ry="6.00" fill="#000000" stroke="#000000" stroke-width="0.8"/>
<ellipse cx="221.80" cy="709.40" rx="6.20" ry="6.00" fill="#000000" stroke="#000000" stroke-width="0.8"/>
<ellipse cx="263.40" cy="698.00" rx="6.20" ry="6.00" fill="#000000" stroke="#000000" stroke-width="0.8"/>
<ellipse cx="305.00" cy="687.50" rx="6.20" ry="6.00" fill="#000000" stroke="#000000" stroke-width="0.8"/>
<ellipse cx="346.60" cy="674.00" rx="6.20" ry="6.00" fill="#000000" stroke="#000000" stroke-width="0.8"/>
<ellipse cx="388.20" cy="661.50" rx="6.20" ry="6.00" fill="#000000" stroke="#000000" stroke-width="0.8"/>
<ellipse cx="429.80" cy="654.80" rx="6.20" ry="6.00" fill="#000000" stroke="#000000" stroke-width="0.8"/>
<ellipse cx="471.40" cy="565.50" rx="6.20" ry="6.00" fill="#000000" stroke="#000000" stroke-width="0.8"/>
</svg>
</body></html>
